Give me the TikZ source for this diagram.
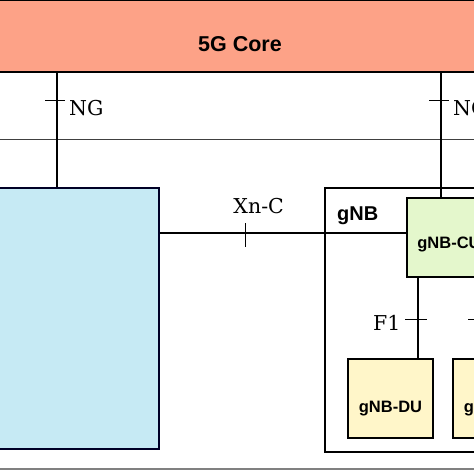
\documentclass[tikz,border=0pt]{standalone}
\usepackage{fontspec}
\usepackage{tikz}
\usepackage{color}
\newfontfamily\boxfont{Liberation Sans}
\newfontfamily\ifont{DejaVu Serif}

\definecolor{corefill}{HTML}{FDA287}
\definecolor{enbfill}{HTML}{C6EAF4}
\definecolor{cufill}{HTML}{E4F7CC}
\definecolor{dufill}{HTML}{FFF6C9}

\begin{document}
\begin{tikzpicture}[x=1pt,y=-1pt,
  unit/.style={draw=black,line width=1.4pt,inner sep=0pt},
  boxtext/.style={font=\boxfont\bfseries\fontsize{16.5}{18}\selectfont},
  iflabel/.style={font=\ifont\fontsize{20.5}{24}\selectfont,inner sep=0pt,anchor=base west},
  link/.style={line width=1.2pt}]
  \clip (0,0) rectangle (474,474);
  \fill[white] (0,0) rectangle (474,474);
  \node [unit,fill=corefill,minimum width=520pt,minimum height=71.5pt,
    font=\boxfont\bfseries\fontsize{21.5}{24}\selectfont,
    text height=29.5pt,text depth=0pt] (core) at (240,36.25) {5G Core};
  \draw [line width=1pt,black!75] (-10,139) -- (490,139);
  \draw [line width=1.5pt,black!50] (-10,469) -- (490,469);
  \node [unit,draw=black!85!blue,fill=enbfill,minimum width=199pt,minimum height=261pt] (enb) at (59.5,318.5) {};
  \node [unit,minimum width=295pt,minimum height=264pt] (gnb) at (472.5,320) {};
  \node [boxtext,font=\boxfont\bfseries\fontsize{20}{22}\selectfont,anchor=base west,inner sep=0pt] (gnblbl) at (337,220) {gNB};
  \node [unit,fill=cufill,minimum width=84pt,minimum height=79pt,boxtext,
    text height=21pt,text depth=0pt] (cu) at (449,237.5) {gNB-CU};
  \node [unit,fill=dufill,minimum width=85pt,minimum height=79pt,boxtext,
    text height=27pt,text depth=0pt] (du1) at (390.5,398.5) {gNB-DU};
  \node [unit,fill=dufill,minimum width=85pt,minimum height=79pt,boxtext,
    text height=27pt,text depth=0pt] (du2) at (495.5,398.5) {gNB-DU};
  % NG
  \draw [link] (57,0 |- core.south) -- coordinate[pos=.24] (ngA) (57,0 |- enb.north);
  \draw [link] ([xshift=-12pt]ngA) -- ([xshift=8pt]ngA);
  \node [iflabel] (ngAlbl) at ([xshift=12pt,yshift=-15pt]ngA) {NG};
  \draw [link] (441,0 |- core.south) -- coordinate[pos=.22] (ngB) (441,0 |- cu.north);
  \draw [link] ([xshift=-12pt]ngB) -- ([xshift=8pt]ngB);
  \node [iflabel] (ngBlbl) at ([xshift=12pt,yshift=-15pt]ngB) {NG};
  % Xn-C
  \draw [link] (enb.east |- 0,233) -- coordinate[pos=.347] (xn) (cu.west |- 0,233);
  \draw [link] ([yshift=10pt]xn) -- ([yshift=-14pt]xn);
  \node [iflabel] (xnlbl) at ([xshift=-12pt,yshift=20pt]xn) {Xn-C};
  % F1
  \draw [link] (418,0 |- cu.south) -- coordinate[pos=.52] (fa) (418,0 |- du1.north);
  \draw [link] ([xshift=-13pt]fa) -- ([xshift=9pt]fa);
  \node [iflabel] (falbl) at ([xshift=-45pt,yshift=-11pt]fa) {F1};
  \draw [link] (481,0 |- cu.south) -- coordinate[pos=.52] (fb) (481,0 |- du2.north);
  \draw [link] ([xshift=-13pt]fb) -- ([xshift=9pt]fb);
\end{tikzpicture}
\end{document}
